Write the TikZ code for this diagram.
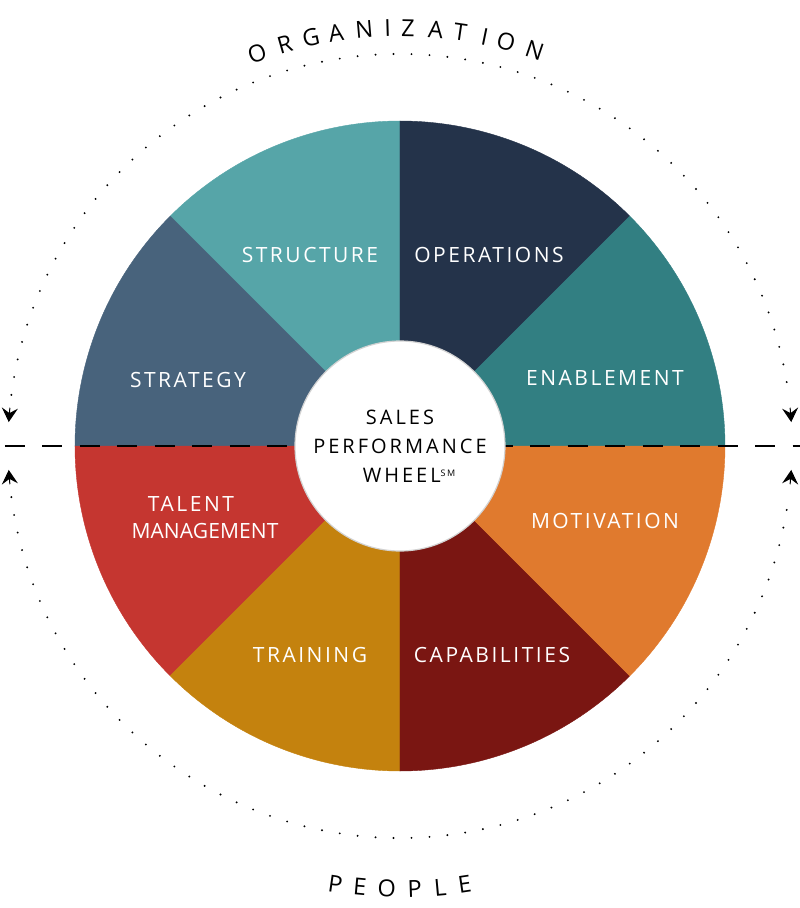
\documentclass[tikz,border=0pt]{standalone}
\usepackage{fontspec}
\setmainfont{Open Sans}
\newfontfamily\lblfont[LetterSpace=12]{Open Sans}
\newfontfamily\lblnarrow[LetterSpace=0.5]{Open Sans}
\newfontfamily\ctrfont[LetterSpace=15]{Open Sans}
\newfontfamily\arcfont{Open Sans}
\usetikzlibrary{arrows.meta}
\definecolor{cStructure}{HTML}{56A5A8}
\definecolor{cOperations}{HTML}{24334A}
\definecolor{cEnablement}{HTML}{327F82}
\definecolor{cStrategy}{HTML}{48637C}
\definecolor{cTalent}{HTML}{C53630}
\definecolor{cTraining}{HTML}{C4820E}
\definecolor{cCapabilities}{HTML}{7A1612}
\definecolor{cMotivation}{HTML}{E07A2E}
\begin{document}
\begin{tikzpicture}[x=1pt,y=1pt,
  lbl/.style={text=white,font=\lblfont\fontsize{21}{25}\selectfont,anchor=base,inner sep=0pt},
  ctr/.style={text=black,font=\ctrfont\fontsize{20}{24}\selectfont,anchor=base,inner sep=0pt},
  arcl/.style={text=black,font=\arcfont\fontsize{23.5}{26}\selectfont,inner sep=0pt},
  dotline/.style={line width=2.1pt,line cap=round,dash pattern=on 0pt off 18pt},
  tipline/.style={line width=1pt,-{Stealth[length=14pt,width=16pt,inset=5pt]}},
  divider/.style={line width=1.2pt,dash pattern=on 20pt off 17.5pt}
]
\useasboundingbox (-400,-462) rectangle (400,446);
% sectors
\foreach \a/\b/\c in {135/90/cStructure, 90/45/cOperations, 45/0/cEnablement, 180/135/cStrategy,
                      225/180/cTalent, 270/225/cTraining, 315/270/cCapabilities, 360/315/cMotivation}
  \filldraw[fill=\c,draw=\c,line width=0.4pt] (0,0) -- (\a:325pt) arc[start angle=\a,end angle=\b,radius=325pt] -- cycle;
% dashed divider
\draw[divider] (-395,0) -- (400,0);
% hub
\node[circle,fill=white,draw=gray!35,line width=1.2pt,minimum size=210pt,inner sep=0pt] (hub) at (0,0) {};
% dotted arcs
\draw[dotline] (172.5:392pt) arc[start angle=172.5,end angle=7.5,radius=392pt];
\draw[dotline] (187.5:392pt) arc[start angle=187.5,end angle=352.5,radius=392pt];
\coordinate (tl0) at (174.4:392pt); \coordinate (tl1) at (176.5:392pt);
\coordinate (tr0) at (5.6:392pt);   \coordinate (tr1) at (3.5:392pt);
\coordinate (bl0) at (185.6:392pt); \coordinate (bl1) at (183.5:392pt);
\coordinate (br0) at (354.4:392pt); \coordinate (br1) at (356.5:392pt);
\draw[tipline] (tl0) -- (tl1);
\draw[tipline] (tr0) -- (tr1);
\draw[tipline] (bl0) -- (bl1);
\draw[tipline] (br0) -- (br1);
% labels
\node[lbl] (structure) at (-90,183) {STRUCTURE};
\node[lbl] (operations) at (89,183) {OPERATIONS};
\node[lbl] (strategy) at (-212,59) {STRATEGY};
\node[lbl] (enablement) at (205,61) {ENABLEMENT};
\node[lbl] (talent) at (-209,-65) {TALENT};
\node[lbl,font=\lblnarrow\fontsize{21}{25}\selectfont] (management) at (-195,-92) {MANAGEMENT};
\node[lbl] (motivation) at (205,-82) {MOTIVATION};
\node[lbl] (training) at (-90,-216) {TRAINING};
\node[lbl] (capabilities) at (92,-216) {CAPABILITIES};
% center text
\node[ctr] (sales) at (0,22) {SALES};
\node[ctr] (perf) at (0,-7) {PERFORMANCE};
\node[ctr] (wheel) at (9,-36) {WHEEL\raisebox{6pt}{\fontsize{9}{10}\selectfont SM}};
% arc text
\foreach \ch/\t [count=\i] in {O/-20.0, R/-16.0, G/-12.3, A/-8.8, N/-4.9, I/-1.7, Z/1.1, A/4.9, T/8.3, I/11.7, O/14.7, N/18.8}
  \node[arcl,rotate=-(\t)] (org\i) at ({90-(\t)}:418pt) {\ch};
\foreach \ch/\t [count=\i] in {P/-8.4, E/-5.2, O/-1.7, P/1.9, L/5.2, E/8.4}
  \node[arcl,rotate=\t] (ppl\i) at ({270+(\t)}:443pt) {\ch};
\end{tikzpicture}
\end{document}
